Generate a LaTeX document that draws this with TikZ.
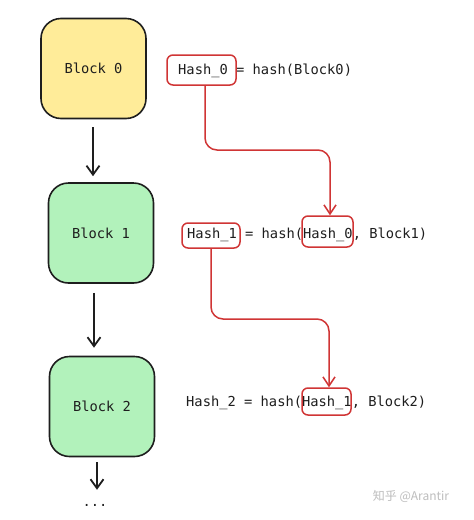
\documentclass[tikz,border=0pt]{standalone}
\usepackage{fontspec}
\setmonofont{DejaVu Sans Mono}
\newfontfamily\cjkfont{Noto Sans CJK SC}
\usetikzlibrary{arrows.meta,calc}
\definecolor{blockyellow}{HTML}{FFEC99}
\definecolor{blockgreen}{HTML}{B2F2BB}
\definecolor{hashred}{HTML}{D03535}
\definecolor{inkblack}{HTML}{1E1E1E}
\definecolor{wmgray}{HTML}{BDBDBD}
\tikzset{
  blockbox/.style={draw=inkblack, line width=1.6pt, rounded corners=20pt,
    minimum width=105pt, minimum height=100pt, inner sep=0pt,
    font=\ttfamily\fontsize{13.75}{16}\selectfont, text=inkblack},
  hashbox/.style={draw=hashred, line width=1.5pt, rounded corners=6pt, inner sep=0pt},
  eqtext/.style={anchor=west, inner sep=0pt, font=\ttfamily\fontsize{13.75}{16}\selectfont, text=inkblack},
  blackarrow/.style={draw=inkblack, line width=1.8pt, -{Straight Barb[length=9pt,width=13pt]}},
  redarrow/.style={draw=hashred, line width=1.5pt, rounded corners=12pt, -{Straight Barb[length=9pt,width=12pt]}},
}
\begin{document}
\begin{tikzpicture}[x=1pt,y=-1pt]
\useasboundingbox[fill=white] (0,0) rectangle (474,520);

% blocks
\node[blockbox, fill=blockyellow] (b0) at (93.5,68.5) {Block 0};
\node[blockbox, fill=blockgreen] (b1) at (101,233) {Block 1};
\node[blockbox, fill=blockgreen] (b2) at (102,406.5) {Block 2};
\node[inner sep=0pt, font=\ttfamily\fontsize{13.75}{16}\selectfont, text=inkblack] (dots) at (95,505) {...};

% equations
\node[eqtext] (e0) at (178,71) {Hash\_0 = hash(Block0)};
\node[eqtext] (e1) at (187,234.5) {Hash\_1 = hash(Hash\_0, Block1)};
\node[eqtext] (e2) at (186,403) {Hash\_2 = hash(Hash\_1, Block2)};

% red boxes
\node[hashbox, minimum width=69pt, minimum height=30pt] (h0) at (201.5,70) {};
\node[hashbox, minimum width=58pt, minimum height=25pt] (h1) at (211,235.5) {};
\node[hashbox, minimum width=51pt, minimum height=31pt] (h01) at (327.5,231.5) {};
\node[hashbox, minimum width=49pt, minimum height=27pt] (h12) at (326.5,401.5) {};

% helper coordinates for the bends
\coordinate (m1) at (0,150);
\coordinate (m2) at (0,319);

% black arrows
\draw[blackarrow, shorten <=8pt, shorten >=6pt] ([xshift=-0.5pt]b0.south) -- ([xshift=-0.5pt]b0.south |- b1.north);
\draw[blackarrow, shorten <=9pt, shorten >=8pt] ([xshift=-7pt]b1.south) -- ([xshift=-7pt]b1.south |- b2.north);
\draw[blackarrow, shorten <=5pt, shorten >=14pt] ([xshift=-5pt]b2.south) -- ([xshift=-5pt]b2.south |- dots.north);

% red connectors
\draw[redarrow] ([xshift=3.5pt]h0.south) -- ([xshift=3.5pt]h0.south |- m1) -- ([xshift=2.5pt]h01.north |- m1) -- ([xshift=2.5pt]h01.north);
\draw[redarrow] (h1.south) -- (h1.south |- m2) -- ([xshift=2.5pt]h12.north |- m2) -- ([xshift=2.5pt]h12.north);

% watermark
\node[inner sep=0pt, text=wmgray, font=\cjkfont\fontsize{12}{14}\selectfont] (wm) at (411,496) {知乎 @Arantir};
\end{tikzpicture}
\end{document}
